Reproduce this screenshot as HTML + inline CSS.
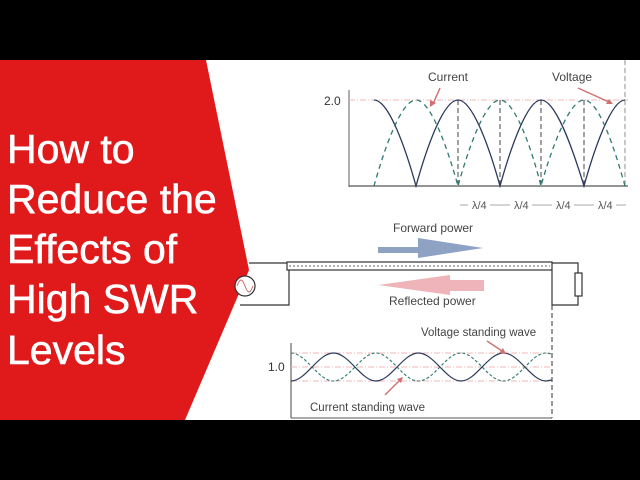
<!DOCTYPE html>
<html><head><meta charset="utf-8"><style>
html,body{margin:0;padding:0;background:#000;}
svg{display:block}
</style></head><body>
<svg width="640" height="480" viewBox="0 0 640 480" xmlns="http://www.w3.org/2000/svg" font-family="Liberation Sans, sans-serif">
<rect x="0" y="0" width="640" height="480" fill="#000"/>
<rect x="0" y="60" width="640" height="360" fill="#fff"/>
<polygon points="0,60 206,60 249,270 185,420 0,420" fill="#e0191b"/>
<g fill="#fff" font-size="41" stroke="#fff" stroke-width="0.6">
<text x="7" y="163">How to</text>
<text x="7" y="213">Reduce the</text>
<text x="7" y="263">Effects of</text>
<text x="7" y="313">High SWR</text>
<text x="7" y="364">Levels</text>
</g>
<!-- top chart -->
<g fill="none">
<line x1="349" y1="90" x2="349" y2="187" stroke="#777" stroke-width="1.2"/>
<line x1="349" y1="186" x2="628" y2="186" stroke="#555" stroke-width="1.2"/>
<line x1="349" y1="100" x2="628" y2="100" stroke="#f0b8b8" stroke-width="1" stroke-dasharray="6,2,1,2"/>
<g stroke="#555" stroke-width="1.1" stroke-dasharray="5,3">
<line x1="458" y1="100" x2="458" y2="186"/>
<line x1="500" y1="100" x2="500" y2="186"/>
<line x1="541" y1="100" x2="541" y2="186"/>
<line x1="584" y1="100" x2="584" y2="186"/>
<line x1="625" y1="60" x2="625" y2="186" stroke="#999"/>
</g>
<path d="M374,100 C389,100 406,150 416,186 C426,150 443,100 458,100 C473,100 490,150 500,186 C510,150 527,100 541,100 C556,100 573,150 584,186 C594,150 611,100 625,100" stroke="#2b3a5c" stroke-width="1.3"/>
<path d="M374,186 C384,150 401,100 416,100 C431,100 448,150 458,186 C468,150 485,100 500,100 C515,100 532,150 541,186 C551,150 569,100 584,100 C599,100 615,150 625,186" stroke="#2e7a72" stroke-width="1.3" stroke-dasharray="5,4"/>
<line x1="440" y1="88" x2="433" y2="104" stroke="#d07070" stroke-width="1.5"/>
<line x1="578" y1="88" x2="609" y2="102" stroke="#d07070" stroke-width="1.5"/>
</g>
<polygon points="430,107 430,100 436,103" fill="#d07070"/>
<polygon points="613,104 606,104 609,99" fill="#d07070"/>
<text x="324" y="105" font-size="12" fill="#333">2.0</text>
<text x="428" y="81" font-size="12" fill="#444">Current</text>
<text x="552" y="81" font-size="12" fill="#444">Voltage</text>
<g font-size="11" fill="#555">
<text x="472" y="209">λ/4</text><text x="514" y="209">λ/4</text><text x="556" y="209">λ/4</text><text x="598" y="209">λ/4</text>
</g>
<g stroke="#aaa" stroke-width="1">
<line x1="460" y1="205" x2="468" y2="205"/><line x1="490" y1="205" x2="510" y2="205"/><line x1="532" y1="205" x2="552" y2="205"/><line x1="574" y1="205" x2="594" y2="205"/><line x1="616" y1="205" x2="626" y2="205"/>
</g>
<!-- circuit -->
<g fill="none" stroke="#333" stroke-width="1.2">
<polyline points="249,263 287,263"/>
<polyline points="240,305 289,305 289,266"/>
<rect x="287" y="262" width="265" height="8" fill="#fff"/>
<line x1="289" y1="266" x2="550" y2="266" stroke-dasharray="2,2" stroke-width="0.8"/>
<polyline points="552,263 578,263 578,273"/>
<rect x="575" y="273" width="7" height="23"/>
<polyline points="578,296 578,305 552,305 552,270"/>
<circle cx="245" cy="286" r="10" fill="#fff"/>
<path d="M237,286 C240,278 242,278 245,286 C248,294 250,294 253,286" stroke="#c06060" stroke-width="0.9"/>
</g>
<polygon points="378,247 418,247 418,238 483,248 418,258 418,253 378,253" fill="#8ea3c4"/>
<polygon points="484,280 450,280 450,275 378,285 450,295 450,291 484,291" fill="#eeb4b9"/>
<text x="393" y="232" font-size="12" fill="#444">Forward power</text>
<text x="389" y="305" font-size="12" fill="#444">Reflected power</text>
<!-- bottom chart -->
<g fill="none">
<line x1="291" y1="343" x2="291" y2="418" stroke="#555" stroke-width="1.1"/>
<line x1="291" y1="418" x2="552" y2="418" stroke="#555" stroke-width="1.1"/>
<line x1="552" y1="305" x2="552" y2="418" stroke="#444" stroke-width="1.1" stroke-dasharray="5,3"/>
<g stroke="#f0b8b8" stroke-width="0.9" stroke-dasharray="6,2,1,2">
<line x1="291" y1="353" x2="552" y2="353"/><line x1="291" y1="367" x2="552" y2="367"/><line x1="291" y1="381" x2="552" y2="381"/>
</g>
<path d="M291,381 C306,381 318,353 333.5,353 C349,353 361,381 376,381 C391,381 403,353 418.5,353 C434,353 446,381 461,381 C476,381 488,353 503.5,353 C519,353 531,381 546,381 L552,380" stroke="#2b3a5c" stroke-width="1.2"/>
<path d="M291,353 C306,353 318,381 333.5,381 C349,381 361,353 376,353 C391,353 403,381 418.5,381 C434,381 446,353 461,353 C476,353 488,381 503.5,381 C519,381 531,353 546,353 L552,354" stroke="#2e7a72" stroke-width="1.1" stroke-dasharray="3,2"/>
<line x1="487" y1="341" x2="502" y2="351" stroke="#d07070" stroke-width="1.4"/>
<line x1="385" y1="395" x2="400" y2="380" stroke="#d07070" stroke-width="1.4"/>
</g>
<polygon points="506,354 499,353 503,348" fill="#d07070"/>
<polygon points="403,377 401,383 397,379" fill="#d07070"/>
<text x="268" y="371" font-size="12" fill="#333">1.0</text>
<text x="421" y="336" font-size="11.5" fill="#444">Voltage standing wave</text>
<text x="310" y="411" font-size="11.5" fill="#444">Current standing wave</text>
</svg>
</body></html>
